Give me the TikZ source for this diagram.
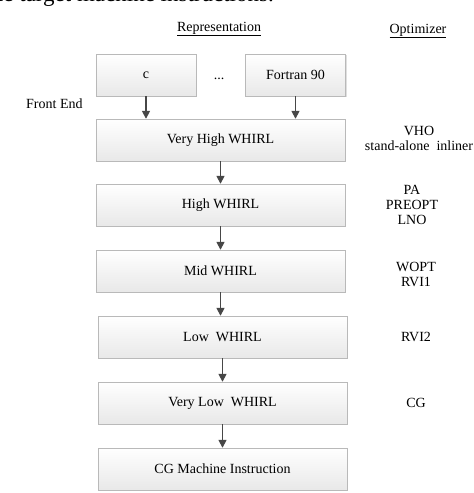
\documentclass[tikz,border=0pt]{standalone}
\usepackage{fontspec}
\setmainfont{Liberation Serif}
\usetikzlibrary{arrows.meta,shadows}
\tikzset{
  stage/.style={draw=gray!55, top color=white, bottom color=gray!18, minimum width=249pt, minimum height=42pt, inner sep=0pt, drop shadow={shadow xshift=1.2pt, shadow yshift=-1.2pt, opacity=0.25}},
  lang/.style={stage, minimum width=100pt},
  flow/.style={-{Triangle[width=8pt,length=8pt]}, line width=1.6pt, draw=black!72},
  opt/.style={align=center, inner sep=0pt}
}
\begin{document}
\begin{tikzpicture}[x=1pt,y=-1pt,font=\fontsize{14}{15}\selectfont]
\useasboundingbox (0,0) rectangle (474,493);
% cut-off line of the surrounding text
\node[anchor=base east, inner sep=0pt, font=\fontsize{23}{25}\selectfont] (tl) at (274,1.5) {the target machine instructions.};
% column heads
\node (rep) at (219,29) {\underline{Representation}};
\node (opt) at (418,31) {\underline{Optimizer}};
% front ends
\node[lang] (c) at (146,75) {c};
\node (dots) at (219,79) {...};
\node[lang] (f90) at (295.5,75) {Fortran 90};
\node[anchor=west, inner sep=0pt] (fe) at (26,104) {Front End};
% WHIRL levels
\node[stage] (vh) at (220.5,140) {Very High WHIRL};
\node[stage] (hw) at (220.5,205) {High WHIRL};
\node[stage] (mw) at (220.5,271) {Mid WHIRL};
\node[stage] (lw) at (222.5,337) {Low\ \ WHIRL};
\node[stage] (vl) at (222.5,403) {Very Low\ \ WHIRL};
\node[stage] (cg) at (222.5,469) {CG Machine Instruction};
% optimizer phases
\node[opt] (vho) at (419,138) {VHO\\stand-alone\ \ inliner};
\node[opt] (pa) at (412,205) {PA\\PREOPT\\LNO};
\node[opt] (wopt) at (416,274) {WOPT\\RVI1};
\node[opt] (rvi2) at (416,337) {RVI2};
\node[opt] (cgo) at (416,403) {CG};
% arrows
\draw[flow] (c.south) -- (c.south |- vh.north);
\draw[flow] (f90.south) -- (f90.south |- vh.north);
\draw[flow] (vh) -- (hw);
\draw[flow] (hw) -- (mw);
\draw[flow] (mw.south) -- (mw.south |- lw.north);
\draw[flow] (lw) -- (vl);
\draw[flow] (vl) -- (cg);
\end{tikzpicture}
\end{document}
